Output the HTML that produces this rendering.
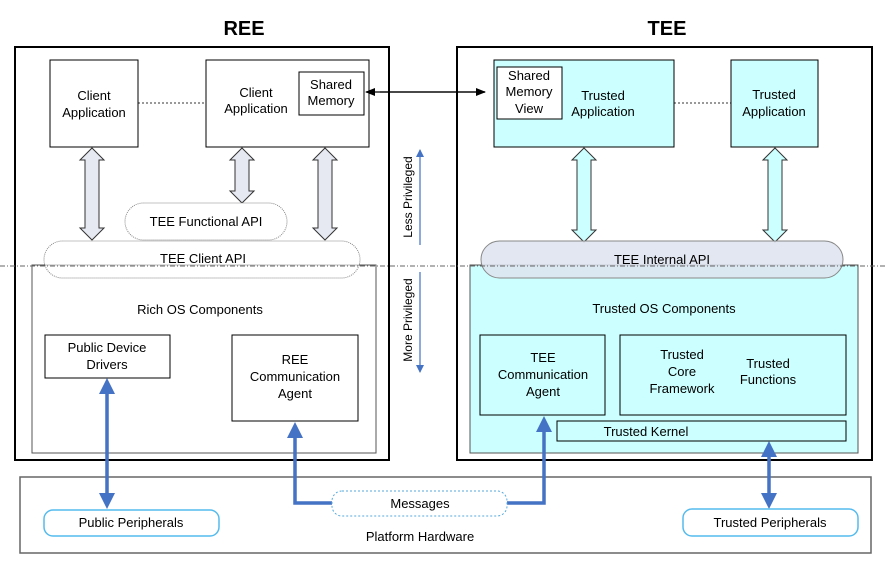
<!DOCTYPE html>
<html><head><meta charset="utf-8"><style>html,body{margin:0;padding:0;background:#fff}svg{display:block}</style></head><body>
<svg width="887" height="581" viewBox="0 0 887 581" xmlns="http://www.w3.org/2000/svg" font-family="Liberation Sans, sans-serif" font-size="13" text-anchor="middle">
<defs>
<marker id="ah" markerWidth="10" markerHeight="10" refX="9" refY="5" orient="auto" markerUnits="userSpaceOnUse"><path d="M0,1 L10,5 L0,9 Z" fill="#000"/></marker>
<marker id="bh" markerWidth="8" markerHeight="8" refX="7" refY="4" orient="auto" markerUnits="userSpaceOnUse"><path d="M0,0 L8,4 L0,8 Z" fill="#4472c4"/></marker>
</defs>
<text x="244" y="35" font-size="20" font-weight="bold">REE</text>
<text x="667" y="35" font-size="20" font-weight="bold">TEE</text>
<!-- outer boxes -->
<rect x="15" y="47" width="374" height="413" fill="#fff" stroke="#000" stroke-width="2"/>
<rect x="457" y="47" width="415" height="413" fill="#fff" stroke="#000" stroke-width="2"/>
<!-- inner lower boxes -->
<rect x="32" y="265" width="344" height="188" fill="#fff" stroke="#555"/>
<rect x="470" y="265" width="388" height="188" fill="#ccffff" stroke="#555"/>
<!-- dotted connectors -->
<line x1="138" y1="103" x2="206" y2="103" stroke="#333" stroke-dasharray="2,2"/>
<line x1="674" y1="103" x2="731" y2="103" stroke="#333" stroke-dasharray="2,2"/>
<!-- top apps -->
<rect x="50" y="60" width="88" height="87" fill="#fff" stroke="#000"/>
<text x="94" y="100">Client</text><text x="94" y="117">Application</text>
<rect x="206" y="60" width="163" height="87" fill="#fff" stroke="#000"/>
<text x="256" y="97">Client</text><text x="256" y="113">Application</text>
<rect x="299" y="72" width="65" height="43" fill="#fff" stroke="#000"/>
<text x="331" y="89">Shared</text><text x="331" y="105">Memory</text>
<rect x="494" y="60" width="180" height="87" fill="#ccffff" stroke="#000"/>
<rect x="497" y="67" width="65" height="52" fill="#fff" stroke="#000"/>
<text x="529" y="80">Shared</text><text x="529" y="96">Memory</text><text x="529" y="113">View</text>
<text x="603" y="100">Trusted</text><text x="603" y="116">Application</text>
<rect x="731" y="60" width="87" height="87" fill="#ccffff" stroke="#000"/>
<text x="774" y="99">Trusted</text><text x="774" y="116">Application</text>
<!-- shared memory arrow -->
<line x1="380" y1="92" x2="485" y2="92" stroke="#000" stroke-width="1.2" marker-end="url(#ah)"/>
<line x1="485" y1="92" x2="366" y2="92" stroke="#000" stroke-width="1.2" marker-end="url(#ah)"/>
<!-- hollow double arrows -->
<g stroke="#333" stroke-width="1">
<path d="M92,148 L104,160 L99,160 L99,228 L104,228 L92,240 L80,228 L85,228 L85,160 L80,160 Z" fill="#e6e9f2"/>
<path d="M242,148 L254,160 L249,160 L249,191 L254,191 L242,203 L230,191 L235,191 L235,160 L230,160 Z" fill="#e6e9f2"/>
<path d="M325,148 L337,160 L332,160 L332,228 L337,228 L325,240 L313,228 L318,228 L318,160 L313,160 Z" fill="#e6e9f2"/>
<path d="M584,148 L596,160 L591,160 L591,230 L596,230 L584,242 L572,230 L577,230 L577,160 L572,160 Z" fill="#ccffff"/>
<path d="M775,148 L787,160 L782,160 L782,230 L787,230 L775,242 L763,230 L768,230 L768,160 L763,160 Z" fill="#ccffff"/>
</g>
<!-- APIs -->
<rect x="125" y="203" width="162" height="37" rx="18.5" fill="#fff" stroke="#888" stroke-dasharray="1,1"/>
<text x="206" y="226">TEE Functional API</text>
<rect x="44" y="241" width="316" height="37" rx="18.5" fill="#fff" fill-opacity="0.6" stroke="#888" stroke-dasharray="1,1"/>
<text x="203" y="263">TEE Client API</text>
<rect x="481" y="241" width="362" height="37" rx="18.5" fill="#dde3ee" fill-opacity="0.85" stroke="#888"/>
<text x="662" y="264">TEE Internal API</text>
<!-- dash-dot line -->
<line x1="0" y1="266" x2="887" y2="266" stroke="#666" stroke-dasharray="5,2,1,2"/>
<!-- privilege labels -->
<text transform="translate(412,197) rotate(-90)" font-size="12">Less Privileged</text>
<line x1="420" y1="245" x2="420" y2="150" stroke="#4472c4" stroke-width="1.2" marker-end="url(#bh)"/>
<text transform="translate(412,320) rotate(-90)" font-size="12">More Privileged</text>
<line x1="420" y1="272" x2="420" y2="372" stroke="#4472c4" stroke-width="1.2" marker-end="url(#bh)"/>
<!-- lower REE -->
<text x="200" y="314">Rich OS Components</text>
<rect x="45" y="335" width="125" height="43" fill="#fff" stroke="#000"/>
<text x="107" y="352">Public Device</text><text x="107" y="369">Drivers</text>
<rect x="232" y="335" width="126" height="86" fill="#fff" stroke="#000"/>
<text x="295" y="364">REE</text><text x="295" y="381">Communication</text><text x="295" y="398">Agent</text>
<!-- lower TEE -->
<text x="664" y="313">Trusted OS Components</text>
<rect x="480" y="335" width="125" height="80" fill="#ccffff" stroke="#000"/>
<text x="543" y="362">TEE</text><text x="543" y="379">Communication</text><text x="543" y="396">Agent</text>
<rect x="620" y="335" width="226" height="80" fill="#ccffff" stroke="#000"/>
<text x="682" y="359">Trusted</text><text x="682" y="376">Core</text><text x="682" y="393">Framework</text>
<text x="768" y="368">Trusted</text><text x="768" y="384">Functions</text>
<rect x="557" y="421" width="289" height="20" fill="#ccffff" stroke="#000"/>
<text x="646" y="436">Trusted Kernel</text>
<!-- platform -->
<rect x="20" y="477" width="851" height="76" fill="#fff" stroke="#666" stroke-width="1.5"/>
<text x="420" y="541">Platform Hardware</text>
<!-- blue thick arrows -->
<g stroke="#4472c4" stroke-width="3.5" fill="none">
<line x1="107" y1="392" x2="107" y2="495"/>
<line x1="769" y1="455" x2="769" y2="495"/>
<polyline points="295,436 295,503 332,503"/>
<polyline points="507,503 544,503 544,430"/>
</g>
<g fill="#4472c4">
<path d="M107,378 L99,394 L115,394 Z"/><path d="M107,509 L99,493 L115,493 Z"/>
<path d="M769,441 L761,457 L777,457 Z"/><path d="M769,509 L761,493 L777,493 Z"/>
<path d="M295,422 L287,438 L303,438 Z"/>
<path d="M544,416 L536,432 L552,432 Z"/>
</g>
<rect x="332" y="491" width="175" height="25" rx="10" fill="#fff" stroke="#55aadd" stroke-dasharray="2,2"/>
<text x="420" y="508">Messages</text>
<rect x="44" y="510" width="175" height="26" rx="9" fill="#fff" stroke="#55bbee" stroke-width="1.5"/>
<text x="131" y="527">Public Peripherals</text>
<rect x="683" y="509" width="175" height="27" rx="9" fill="#fff" stroke="#55bbee" stroke-width="1.5"/>
<text x="770" y="527">Trusted Peripherals</text>
</svg>
</body></html>
